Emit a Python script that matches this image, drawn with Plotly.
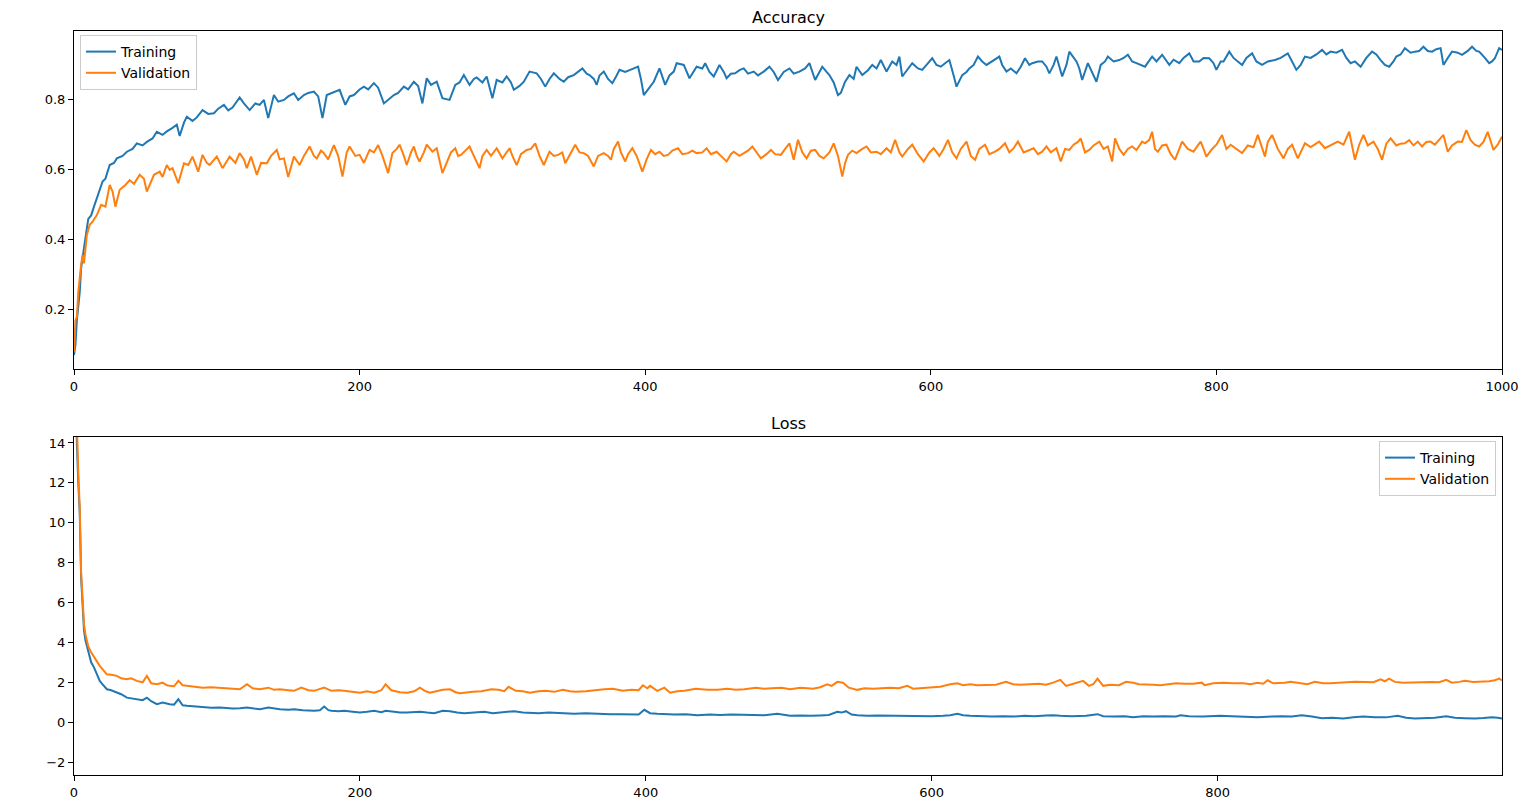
import plotly.graph_objects as go

# ---------------- data ----------------
acc_train_epochs = [0,1,2,3,4,5,6,7,8,10,12,14,17,20,22,25,28,30,34,37,41,44,48,51,55,58,62,65,69,72,74,77,79,83,86,90,94,98,101,105,108,111,116,119,123,127,130,133,136,140,143,147,150,154,157,161,164,168,171,174,177,181,186,190,193,196,200,203,206,210,213,217,220,224,227,231,234,238,241,244,247,250,254,258,263,267,270,273,277,280,282,286,289,293,296,300,303,306,308,312,315,319,324,327,330,333,336,340,343,346,350,353,356,359,361,364,366,368,371,374,377,380,382,386,389,392,395,397,399,402,406,410,414,417,420,422,427,431,434,436,440,442,445,448,452,455,457,460,463,466,469,472,476,479,483,487,490,493,497,501,504,508,512,515,519,524,527,529,532,535,537,540,543,546,548,552,556,559,562,565,569,573,576,578,580,584,587,591,594,597,601,604,607,610,613,616,618,622,625,627,630,633,636,639,643,648,650,653,656,660,663,666,669,671,675,678,681,683,686,688,692,695,697,700,702,704,706,710,713,716,719,722,724,728,732,735,738,741,744,747,750,755,758,762,767,770,774,777,781,784,788,791,795,798,800,803,805,809,812,815,818,821,825,828,832,836,841,845,850,853,856,859,862,866,870,874,877,880,884,888,891,894,897,901,905,909,912,915,918,921,924,926,929,932,936,939,942,945,948,951,954,957,959,962,965,969,972,976,979,982,984,988,991,993,995,998,1000]
acc_train = [0.071,0.10,0.17,0.21,0.25,0.32,0.35,0.39,0.405,0.46,0.47,0.495,0.528,0.567,0.575,0.614,0.62,0.633,0.64,0.652,0.66,0.676,0.67,0.68,0.69,0.709,0.70,0.71,0.72,0.729,0.697,0.735,0.752,0.74,0.75,0.771,0.76,0.762,0.775,0.786,0.77,0.778,0.807,0.79,0.771,0.79,0.786,0.80,0.748,0.814,0.795,0.80,0.81,0.819,0.80,0.814,0.82,0.824,0.81,0.748,0.814,0.82,0.829,0.786,0.81,0.814,0.83,0.838,0.83,0.848,0.835,0.790,0.80,0.814,0.82,0.838,0.83,0.852,0.84,0.790,0.862,0.843,0.852,0.805,0.800,0.843,0.85,0.871,0.843,0.86,0.864,0.85,0.867,0.805,0.857,0.85,0.867,0.85,0.829,0.84,0.852,0.881,0.876,0.86,0.838,0.86,0.876,0.86,0.852,0.865,0.871,0.88,0.890,0.875,0.871,0.86,0.843,0.87,0.881,0.86,0.848,0.87,0.886,0.88,0.886,0.89,0.895,0.86,0.814,0.829,0.852,0.890,0.843,0.87,0.881,0.905,0.900,0.862,0.88,0.895,0.89,0.905,0.88,0.867,0.900,0.88,0.862,0.875,0.876,0.885,0.890,0.875,0.881,0.87,0.881,0.895,0.88,0.857,0.88,0.890,0.875,0.881,0.89,0.905,0.857,0.895,0.88,0.871,0.85,0.814,0.82,0.852,0.871,0.86,0.895,0.871,0.885,0.900,0.89,0.914,0.881,0.910,0.90,0.924,0.867,0.89,0.905,0.89,0.886,0.90,0.919,0.90,0.895,0.905,0.914,0.87,0.838,0.871,0.88,0.890,0.90,0.924,0.91,0.900,0.91,0.924,0.90,0.881,0.89,0.876,0.895,0.919,0.90,0.905,0.91,0.910,0.895,0.876,0.90,0.924,0.867,0.90,0.938,0.92,0.910,0.89,0.857,0.905,0.88,0.852,0.900,0.91,0.924,0.91,0.914,0.92,0.929,0.91,0.905,0.90,0.895,0.924,0.91,0.929,0.900,0.915,0.905,0.92,0.933,0.91,0.910,0.92,0.919,0.905,0.886,0.91,0.910,0.938,0.92,0.91,0.900,0.92,0.933,0.91,0.900,0.91,0.914,0.92,0.933,0.91,0.886,0.90,0.924,0.92,0.93,0.943,0.93,0.938,0.935,0.943,0.92,0.905,0.91,0.895,0.92,0.938,0.93,0.914,0.90,0.895,0.91,0.924,0.93,0.948,0.935,0.938,0.94,0.952,0.94,0.938,0.945,0.948,0.900,0.92,0.938,0.935,0.929,0.94,0.952,0.94,0.938,0.92,0.905,0.91,0.919,0.948,0.943]

acc_val_epochs = [0,1,2,3,5,6,7,9,11,13,16,19,22,25,27,29,32,34,36,39,42,46,49,51,54,56,60,62,65,67,69,73,77,80,83,87,90,93,95,98,100,104,107,109,113,116,119,121,124,128,131,135,138,142,144,147,150,154,158,161,165,168,170,173,175,178,182,185,188,191,193,197,200,203,207,210,213,216,220,223,226,228,231,233,236,238,240,242,245,247,251,254,258,262,264,267,269,271,274,277,280,284,286,289,292,296,300,302,305,307,310,313,317,320,323,326,329,333,336,339,342,344,347,351,354,357,360,364,367,371,374,376,378,381,383,386,388,391,394,398,401,404,407,410,413,416,419,423,426,430,433,436,440,443,446,450,453,457,460,462,466,469,472,475,478,481,485,488,491,495,498,501,504,507,510,513,516,519,522,525,529,532,535,538,540,542,545,548,552,555,558,562,565,569,572,575,578,580,584,587,591,595,599,602,606,609,612,615,618,621,625,628,631,634,638,641,645,648,652,655,658,661,665,669,672,675,678,681,684,688,691,694,697,700,703,705,708,711,714,718,721,724,727,729,732,735,738,741,744,748,750,753,755,757,759,762,765,768,771,774,776,780,784,787,789,791,793,797,800,804,807,810,814,818,822,826,829,832,834,836,839,843,847,850,853,857,860,862,866,869,872,876,880,885,889,893,897,900,903,906,910,913,916,919,922,926,929,932,935,938,941,944,947,950,953,956,959,962,965,969,972,975,978,981,984,987,990,994,997,1000]
acc_val = [0.08,0.17,0.18,0.25,0.33,0.357,0.333,0.414,0.443,0.452,0.471,0.50,0.495,0.557,0.538,0.495,0.543,0.55,0.557,0.571,0.56,0.586,0.575,0.538,0.57,0.586,0.595,0.58,0.614,0.60,0.605,0.562,0.619,0.614,0.638,0.595,0.643,0.62,0.614,0.63,0.638,0.605,0.625,0.638,0.62,0.648,0.63,0.605,0.638,0.586,0.62,0.619,0.64,0.657,0.63,0.633,0.580,0.638,0.614,0.64,0.667,0.64,0.633,0.655,0.648,0.63,0.671,0.64,0.581,0.65,0.667,0.64,0.643,0.62,0.657,0.65,0.671,0.64,0.591,0.648,0.66,0.672,0.64,0.614,0.65,0.667,0.64,0.624,0.65,0.672,0.652,0.662,0.591,0.629,0.65,0.662,0.64,0.643,0.655,0.667,0.64,0.605,0.64,0.657,0.64,0.662,0.633,0.645,0.662,0.64,0.614,0.645,0.657,0.66,0.676,0.64,0.614,0.652,0.64,0.643,0.65,0.619,0.64,0.672,0.65,0.648,0.64,0.610,0.64,0.648,0.64,0.629,0.66,0.681,0.65,0.624,0.645,0.662,0.64,0.595,0.63,0.657,0.645,0.652,0.64,0.643,0.655,0.662,0.645,0.648,0.655,0.648,0.65,0.662,0.645,0.652,0.64,0.624,0.645,0.652,0.64,0.648,0.655,0.667,0.65,0.633,0.645,0.657,0.645,0.643,0.66,0.676,0.629,0.686,0.65,0.633,0.655,0.657,0.64,0.633,0.65,0.676,0.64,0.581,0.62,0.643,0.655,0.648,0.66,0.667,0.65,0.652,0.645,0.662,0.65,0.686,0.65,0.638,0.66,0.672,0.645,0.624,0.65,0.662,0.64,0.66,0.686,0.65,0.633,0.66,0.681,0.64,0.629,0.66,0.672,0.645,0.652,0.66,0.676,0.65,0.662,0.681,0.65,0.657,0.662,0.645,0.652,0.667,0.65,0.662,0.624,0.66,0.657,0.672,0.68,0.690,0.65,0.657,0.67,0.681,0.66,0.667,0.624,0.690,0.66,0.643,0.66,0.667,0.657,0.681,0.676,0.686,0.709,0.66,0.652,0.67,0.672,0.645,0.629,0.66,0.681,0.66,0.652,0.67,0.681,0.66,0.638,0.66,0.672,0.700,0.66,0.672,0.66,0.648,0.67,0.665,0.700,0.66,0.638,0.68,0.700,0.66,0.633,0.66,0.672,0.633,0.66,0.676,0.665,0.672,0.681,0.662,0.67,0.681,0.672,0.709,0.629,0.672,0.700,0.67,0.681,0.66,0.629,0.675,0.690,0.67,0.675,0.676,0.685,0.67,0.681,0.667,0.68,0.681,0.672,0.685,0.700,0.652,0.67,0.681,0.68,0.714,0.685,0.672,0.667,0.68,0.709,0.657,0.672,0.695]

loss_train_epochs = [0,1,2,3,4,5,6,7,8,10,12,14,16,18,20,23,26,30,33,37,40,44,48,51,54,58,62,67,70,73,76,79,85,90,96,102,107,111,116,121,126,130,136,141,144,150,154,160,168,172,175,178,180,185,189,195,200,205,210,215,218,224,228,233,238,242,247,252,258,263,268,273,280,287,293,300,308,314,319,325,332,342,350,358,366,375,382,389,395,399,403,408,413,420,428,436,445,452,460,468,475,483,492,497,501,508,515,522,528,534,537,540,544,548,555,562,570,578,585,592,600,608,613,618,622,627,635,642,650,658,665,672,680,685,690,698,708,716,720,727,735,741,748,755,762,771,774,780,790,795,802,810,820,828,838,845,852,859,866,873,880,888,895,902,910,918,926,932,938,945,952,960,966,973,980,986,992,996,999]
loss_train = [22,17,14,12,10.5,7.2,5.6,4.6,4.1,3.48,3.0,2.75,2.4,2.07,1.9,1.65,1.6,1.48,1.4,1.23,1.2,1.15,1.1,1.23,1.05,0.9,0.98,0.9,0.88,1.15,0.85,0.82,0.78,0.73,0.72,0.73,0.7,0.68,0.7,0.73,0.68,0.65,0.73,0.66,0.65,0.62,0.65,0.6,0.57,0.6,0.78,0.6,0.57,0.55,0.57,0.52,0.48,0.52,0.57,0.5,0.57,0.52,0.48,0.48,0.52,0.52,0.48,0.45,0.57,0.55,0.48,0.45,0.48,0.52,0.45,0.48,0.55,0.48,0.45,0.45,0.48,0.45,0.42,0.45,0.42,0.4,0.4,0.38,0.38,0.62,0.45,0.42,0.40,0.38,0.4,0.35,0.38,0.36,0.38,0.36,0.38,0.35,0.42,0.35,0.32,0.34,0.32,0.34,0.36,0.52,0.48,0.55,0.38,0.35,0.32,0.33,0.32,0.3,0.32,0.28,0.3,0.32,0.35,0.42,0.35,0.32,0.3,0.28,0.3,0.28,0.32,0.3,0.34,0.35,0.32,0.3,0.32,0.40,0.3,0.28,0.3,0.25,0.3,0.28,0.3,0.28,0.35,0.3,0.28,0.3,0.32,0.3,0.26,0.25,0.28,0.3,0.28,0.35,0.28,0.2,0.22,0.18,0.25,0.28,0.25,0.24,0.32,0.22,0.18,0.2,0.22,0.3,0.22,0.2,0.18,0.21,0.25,0.22,0.18]

loss_val_epochs = [0,1,2,3,4,5,6,7,8,10,12,14,16,18,20,23,26,30,33,37,40,44,48,51,54,58,62,65,67,70,73,76,79,84,90,96,102,107,111,116,121,125,130,136,140,144,150,154,159,164,168,172,175,180,185,189,195,200,205,210,215,218,222,224,228,233,238,242,246,249,253,258,263,267,270,275,279,285,292,297,301,304,309,314,319,325,330,336,342,347,351,358,365,371,377,384,390,395,398,401,403,408,413,417,422,427,435,443,450,457,463,469,477,483,488,495,501,505,508,513,517,522,527,530,534,538,542,548,553,559,565,571,577,583,587,593,599,606,613,618,622,627,632,638,645,652,657,662,666,671,675,680,685,690,694,698,703,706,710,713,716,720,725,731,736,741,745,749,755,760,766,771,777,783,789,791,797,804,811,818,823,828,832,835,839,842,847,851,857,863,868,874,879,885,890,896,903,909,914,917,920,924,930,936,943,950,955,960,964,969,973,979,985,990,994,997,999]
loss_val = [24,19,15,12.5,10.8,7.5,5.9,4.9,4.4,3.8,3.5,3.3,3.05,2.82,2.65,2.4,2.38,2.32,2.2,2.15,2.2,2.07,2.0,2.32,1.95,1.9,1.98,1.85,1.82,1.8,2.07,1.85,1.82,1.78,1.73,1.75,1.73,1.68,1.7,1.65,1.9,1.7,1.65,1.73,1.62,1.65,1.6,1.57,1.73,1.6,1.57,1.65,1.73,1.57,1.6,1.57,1.52,1.48,1.55,1.48,1.6,1.9,1.6,1.57,1.5,1.48,1.55,1.73,1.55,1.48,1.55,1.62,1.65,1.5,1.45,1.5,1.52,1.55,1.65,1.62,1.55,1.77,1.57,1.55,1.48,1.55,1.57,1.52,1.62,1.55,1.52,1.55,1.62,1.65,1.68,1.57,1.62,1.6,1.85,1.7,1.82,1.57,1.73,1.48,1.55,1.57,1.68,1.62,1.62,1.68,1.62,1.65,1.73,1.67,1.70,1.73,1.65,1.68,1.73,1.7,1.68,1.75,1.9,1.82,2.02,1.98,1.73,1.62,1.7,1.68,1.7,1.73,1.7,1.82,1.68,1.72,1.73,1.78,1.9,1.95,1.85,1.9,1.85,1.85,1.88,2.02,1.9,1.88,1.9,1.9,1.93,1.88,1.98,2.12,1.82,1.9,2.02,2.07,1.82,1.9,2.18,1.82,1.88,1.85,2.02,1.98,1.9,1.9,1.88,1.85,1.9,1.95,1.92,1.93,1.98,1.85,1.95,1.98,1.95,1.95,1.9,1.98,1.93,2.1,1.95,1.95,1.98,2.02,1.95,1.9,2.02,1.95,1.95,1.98,2.0,2.03,2.02,2.0,2.15,2.05,2.18,2.02,1.98,1.98,2.0,2.02,2.0,2.12,1.98,2.02,2.07,2.02,2.02,2.05,2.1,2.18,2.1]

acc_xticks = [0, 200, 400, 600, 800, 1000]
acc_yticks = [0.2, 0.4, 0.6, 0.8]
loss_xticks = [0, 200, 400, 600, 800]
loss_yticks = [-2, 0, 2, 4, 6, 8, 10, 12, 14]

# ---------------- figure ----------------
BLUE = "#1f77b4"
ORANGE = "#ff7f0e"
W, H = 1536, 807
FONT = "DejaVu Sans"

fig = go.Figure()
fig.add_trace(go.Scatter(x=acc_train_epochs, y=acc_train, mode="lines", name="Training",
                         line=dict(color=BLUE, width=2), xaxis="x", yaxis="y", legend="legend"))
fig.add_trace(go.Scatter(x=acc_val_epochs, y=acc_val, mode="lines", name="Validation",
                         line=dict(color=ORANGE, width=2), xaxis="x", yaxis="y", legend="legend"))
fig.add_trace(go.Scatter(x=loss_train_epochs, y=loss_train, mode="lines", name="Training",
                         line=dict(color=BLUE, width=2), xaxis="x2", yaxis="y2", legend="legend2"))
fig.add_trace(go.Scatter(x=loss_val_epochs, y=loss_val, mode="lines", name="Validation",
                         line=dict(color=ORANGE, width=2), xaxis="x2", yaxis="y2", legend="legend2"))

xdom = [74 / W, 1502 / W]
top_dom = [1 - 369 / H, 1 - 31 / H]
bot_dom = [1 - 775 / H, 1 - 437 / H]

axis_common = dict(showline=True, linecolor="black", linewidth=1, mirror=True,
                   ticks="outside", ticklen=5, tickwidth=1, tickcolor="black",
                   showgrid=False, zeroline=False, automargin=False,
                   tickfont=dict(family=FONT, size=13, color="black"))

legend_common = dict(bgcolor="rgba(255,255,255,0.8)", bordercolor="#cccccc", borderwidth=1,
                     font=dict(family=FONT, size=14, color="black"), itemwidth=30,
                     tracegroupgap=0)

fig.update_layout(
    template="none",
    width=W, height=H, autosize=False,
    margin=dict(l=0, r=0, t=0, b=0, pad=0, autoexpand=False),
    paper_bgcolor="white", plot_bgcolor="white",
    font=dict(family=FONT, size=13, color="black"),
    xaxis=dict(domain=xdom, anchor="y", range=[0, 1000], tickvals=acc_xticks, **axis_common),
    yaxis=dict(domain=top_dom, anchor="x", range=[0.031, 0.997], tickvals=acc_yticks, **axis_common),
    xaxis2=dict(domain=xdom, anchor="y2", range=[0, 999], tickvals=loss_xticks, **axis_common),
    yaxis2=dict(domain=bot_dom, anchor="x2", range=[-2.65, 14.3], tickvals=loss_yticks, **axis_common),
    legend=dict(x=80 / W, y=1 - 35 / H, xanchor="left", yanchor="top", **legend_common),
    legend2=dict(x=1496 / W, y=1 - 441 / H, xanchor="right", yanchor="top", **legend_common),
    annotations=[
        dict(text="Accuracy", x=(xdom[0] + xdom[1]) / 2, y=1 - 17 / H, xref="paper", yref="paper",
             showarrow=False, xanchor="center", yanchor="middle",
             font=dict(family=FONT, size=16, color="black")),
        dict(text="Loss", x=(xdom[0] + xdom[1]) / 2, y=1 - 424 / H, xref="paper", yref="paper",
             showarrow=False, xanchor="center", yanchor="middle",
             font=dict(family=FONT, size=16, color="black")),
    ],
)

fig.write_html("out.html")
